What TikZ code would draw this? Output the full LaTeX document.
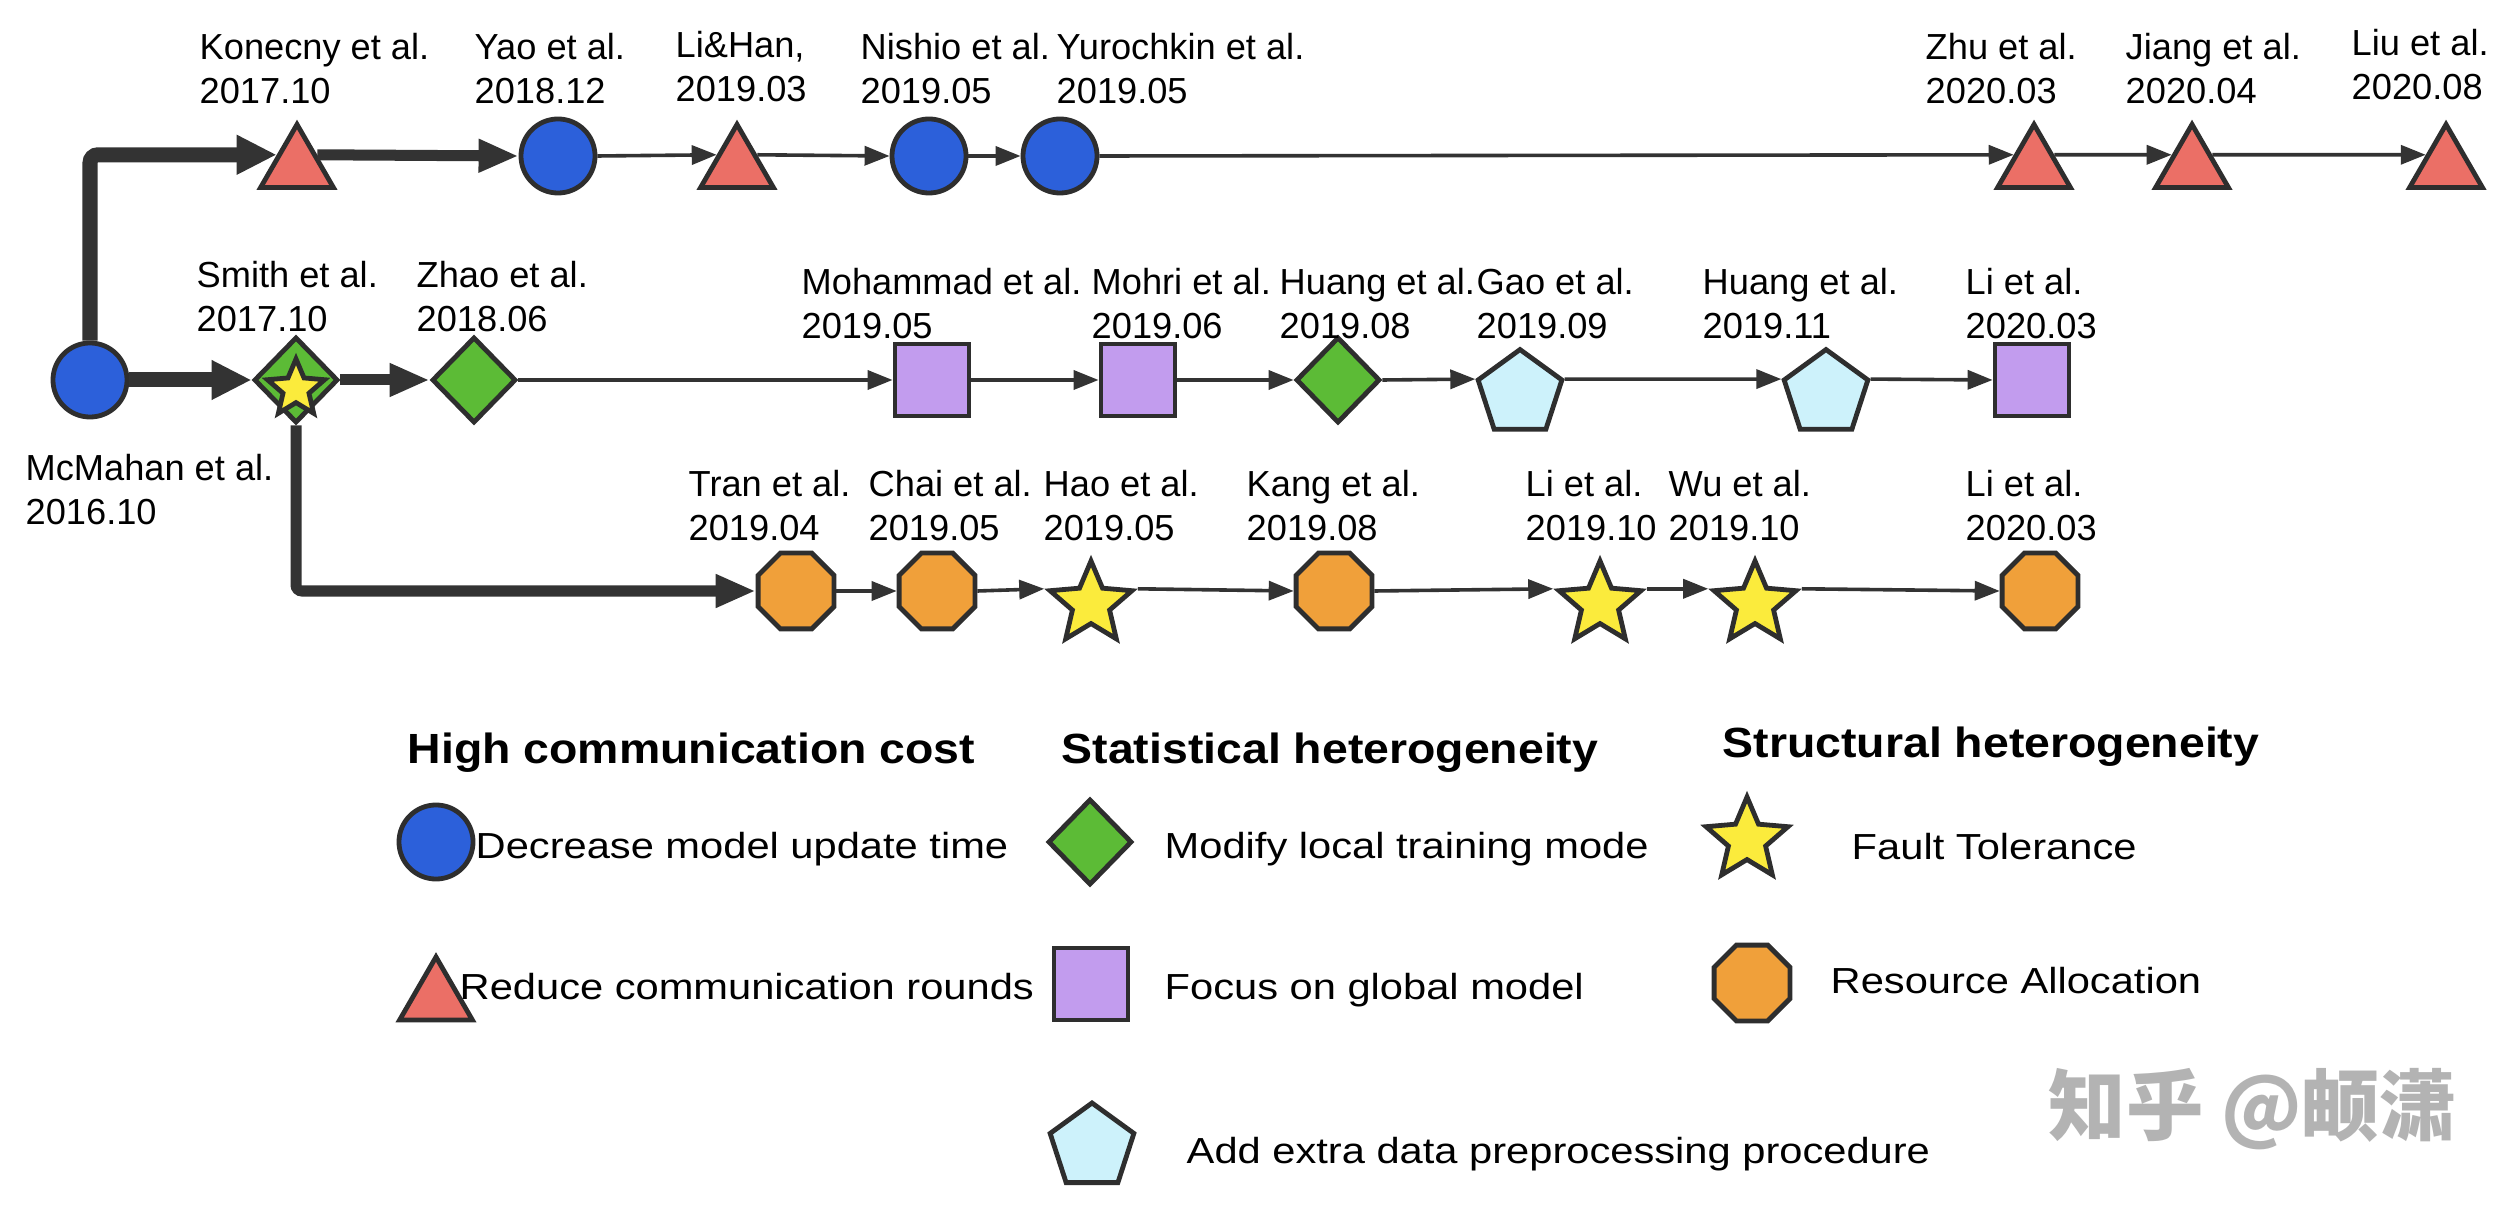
\documentclass[tikz,border=0pt]{standalone}
\usepackage{fontspec}
\setmainfont{Liberation Sans}
\newfontfamily\legfont[FakeStretch=1.15]{Liberation Sans}
\newfontfamily\headfont[FakeStretch=1.10]{Liberation Sans}
\newfontfamily\cjkfont{Noto Sans CJK SC}
\usetikzlibrary{shapes.geometric,arrows.meta}
\definecolor{cblue}{HTML}{2C60DA}
\definecolor{cred}{HTML}{EB6F66}
\definecolor{cgreen}{HTML}{5CBB36}
\definecolor{cpurple}{HTML}{C29CEE}
\definecolor{ccyan}{HTML}{CDF2FB}
\definecolor{corange}{HTML}{F0A03A}
\definecolor{cyellow}{HTML}{FBEB3C}
\definecolor{outl}{HTML}{2E2E2E}
\definecolor{lcol}{HTML}{333333}
\definecolor{wmgray}{HTML}{B3B3B3}
\begin{document}
\begin{tikzpicture}[x=0.01cm,y=-0.01cm,
  mk/.style={draw=outl,line width=0.048cm,inner sep=0pt},
  circ/.style={mk,circle,fill=cblue,minimum size=0.74cm},
  tri/.style={mk,regular polygon,regular polygon sides=3,fill=cred,minimum size=0.84cm},
  dia/.style={mk,diamond,fill=cgreen,minimum width=0.84cm,minimum height=0.86cm},
  sq/.style={mk,rectangle,fill=cpurple,minimum width=0.74cm,minimum height=0.72cm},
  pent/.style={mk,regular polygon,regular polygon sides=5,fill=ccyan,minimum size=0.88cm},
  oct/.style={mk,regular polygon,regular polygon sides=8,fill=corange,minimum size=0.82cm},
  starmk/.style={mk,star,star points=5,star point ratio=2.2,fill=cyellow,minimum size=0.86cm},
  lab/.style={anchor=north west,inner sep=0pt,align=left,font=\fontsize{10.3}{12.25}\selectfont},
  leg/.style={anchor=base west,inner sep=0pt,font=\legfont\fontsize{10.3}{12}\selectfont},
  head/.style={anchor=base west,inner sep=0pt,font=\headfont\bfseries\fontsize{12}{14}\selectfont},
  thinarr/.style={draw=lcol,line width=0.036cm,-{Triangle[length=0.25cm,width=0.19cm]}},
  thickA/.style={draw=lcol,line width=0.15cm,-{Triangle[length=0.40cm,width=0.37cm]},rounded corners=0.08cm},
  thickB/.style={draw=lcol,line width=0.11cm,-{Triangle[length=0.40cm,width=0.31cm]},rounded corners=0.06cm}
]
\useasboundingbox[fill=white] (0,0) rectangle (2504,1210);

% ---------- top row (line y = 156)
\node[circ] (mcm) at (90,380) {};
\node[tri] (kon) at (297,166.5) {};
\node[circ] (yao) at (558,156) {};
\node[tri] (lih) at (737,166.5) {};
\node[circ] (nis) at (929,156) {};
\node[circ] (yur) at (1060,156) {};
\node[tri] (zhu) at (2034,166.5) {};
\node[tri] (jia) at (2192,166.5) {};
\node[tri] (liu) at (2446,166.5) {};

% ---------- middle row (line y = 380)
\node[dia] (smi) at (296,380) {};
\node[mk,star,star points=5,star point ratio=2.2,fill=cyellow,minimum size=0.6cm] (smis) at (296,389) {};
\node[dia] (zha) at (474,380) {};
\node[sq] (moh) at (932,380) {};
\node[sq] (mhr) at (1138,380) {};
\node[dia] (hua) at (1338,380) {};
\node[pent] (gao) at (1520,393.6) {};
\node[pent] (hub) at (1826,393.6) {};
\node[sq] (lim) at (2032,380) {};

% ---------- bottom row (line y = 591)
\node[oct] (tra) at (796,591) {};
\node[oct] (cha) at (937,591) {};
\node[starmk] (hao) at (1091,604) {};
\node[oct] (kan) at (1334,591) {};
\node[starmk] (lib) at (1600,604) {};
\node[starmk] (wuu) at (1755,604) {};
\node[oct] (lic) at (2040,591) {};

% ---------- connectors
\draw[thickA] (mcm.north) |- (kon.150);
\draw[thickA] (mcm.east) -- (smi.west);
\draw[thickB] (kon.30) -- (yao.west);
\draw[thickB] (smi.east) -- (zha.west);
\draw[thickB] (smi.south) |- (tra.west);

\draw[thinarr] (yao.east) -- (lih.150);
\draw[thinarr] (lih.30) -- (nis.west);
\draw[thinarr] (nis.east) -- (yur.west);
\draw[thinarr] (yur.east) -- (zhu.150);
\draw[thinarr] (zhu.30) -- (jia.150);
\draw[thinarr] (jia.30) -- (liu.150);

\draw[thinarr] (zha.east) -- (moh.west);
\draw[thinarr] (moh.east) -- (mhr.west);
\draw[thinarr] (mhr.east) -- (hua.west);
\draw[thinarr] (hua.east) -- (gao.162);
\draw[thinarr] (gao.18) -- (hub.162);
\draw[thinarr] (hub.18) -- (lim.west);

\draw[thinarr] (tra.east) -- (cha.west);
\draw[thinarr] (cha.east) -- (hao.162);
\draw[thinarr] (hao.18) -- (kan.west);
\draw[thinarr] (kan.east) -- (lib.162);
\draw[thinarr] (lib.18) -- (wuu.162);
\draw[thinarr] (wuu.18) -- (lic.west);

% ---------- labels
\node[lab] (tkon) at (199,33) {Konecny et al.\\2017.10};
\node[lab] (tyao) at (474,33) {Yao et al.\\2018.12};
\node[lab] (tlih) at (675,31) {Li\&Han,\\2019.03};
\node[lab] (tnis) at (860,33) {Nishio et al.\\2019.05};
\node[lab] (tyur) at (1056,33) {Yurochkin et al.\\2019.05};
\node[lab] (tzhu) at (1925,33) {Zhu et al.\\2020.03};
\node[lab] (tjia) at (2125,33) {Jiang et al.\\2020.04};
\node[lab] (tliu) at (2351,29) {Liu et al.\\2020.08};

\node[lab] (tsmi) at (196,261) {Smith et al.\\2017.10};
\node[lab] (tzha) at (416,261) {Zhao et al.\\2018.06};
\node[lab] (tmoh) at (801,268) {Mohammad et al.\\2019.05};
\node[lab] (tmhr) at (1091,268) {Mohri et al.\\2019.06};
\node[lab] (thua) at (1279,268) {Huang et al.\\2019.08};
\node[lab] (tgao) at (1476,268) {Gao et al.\\2019.09};
\node[lab] (thub) at (1702,268) {Huang et al.\\2019.11};
\node[lab] (tlim) at (1965,268) {Li et al.\\2020.03};

\node[lab] (tmcm) at (25,454) {McMahan et al.\\2016.10};

\node[lab] (ttra) at (688,470) {Tran et al.\\2019.04};
\node[lab] (tcha) at (868,470) {Chai et al.\\2019.05};
\node[lab] (thao) at (1043,470) {Hao et al.\\2019.05};
\node[lab] (tkan) at (1246,470) {Kang et al.\\2019.08};
\node[lab] (tlib) at (1525,470) {Li et al.\\2019.10};
\node[lab] (twuu) at (1668,470) {Wu et al.\\2019.10};
\node[lab] (tlic) at (1965,470) {Li et al.\\2020.03};

% ---------- legend
\node[head] (h1) at (407,763) {High communication cost};
\node[head] (h2) at (1061,763) {Statistical heterogeneity};
\node[head] (h3) at (1722,758) {Structural heterogeneity};

\node[circ] (lgc) at (436,842) {};
\node[leg] (lgct) at (475,858) {Decrease model update time};
\node[tri] (lgt) at (436,999) {};
\node[leg] (lgtt) at (459,999) {Reduce communication rounds};

\node[dia] (lgd) at (1090,842) {};
\node[leg] (lgdt) at (1164,858) {Modify local training mode};
\node[sq] (lgs) at (1091,984) {};
\node[leg] (lgst) at (1164,999) {Focus on global model};
\node[pent] (lgp) at (1092,1147) {};
\node[leg] (lgpt) at (1186,1163) {Add extra data preprocessing procedure};

\node[starmk] (lgr) at (1747,840) {};
\node[leg] (lgrt) at (1851,859) {Fault Tolerance};
\node[oct] (lgo) at (1752,983) {};
\node[leg] (lgot) at (1830,993) {Resource Allocation};

% ---------- watermark
\node[anchor=west,inner sep=0pt,text=wmgray,font=\cjkfont\bfseries\fontsize{22}{22}\selectfont] (wm) at (2048,1109) {知乎 @𬱖潇};
\end{tikzpicture}
\end{document}
